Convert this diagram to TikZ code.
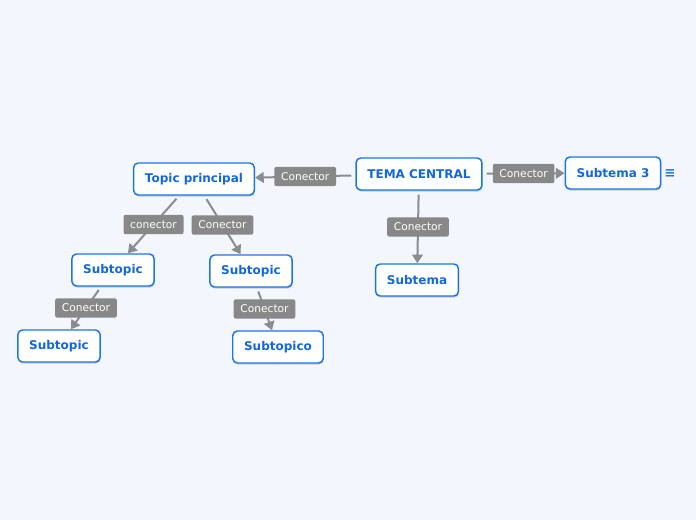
\documentclass[tikz,border=0pt]{standalone}
\usepackage{fontspec}
\setmainfont{DejaVu Sans}
\usetikzlibrary{arrows.meta,shadows}
\definecolor{Paper}{HTML}{F3F6FD}
\definecolor{Topic}{HTML}{1877E6}
\definecolor{TopicText}{HTML}{1268D8}
\definecolor{Link}{HTML}{8A8C90}
\definecolor{Tag}{HTML}{888888}

\begin{document}
\begin{tikzpicture}[x=0.75pt,y=-0.75pt,
  topic/.style={draw=Topic,line width=1.1pt,fill=white,rounded corners=3.5pt,
    minimum height=24pt,inner xsep=8.5pt,text=TopicText,
    font=\fontsize{9}{11}\selectfont\bfseries,
    drop shadow={shadow xshift=0.4pt,shadow yshift=-1.2pt,fill=black,opacity=0.18}},
  link/.style={draw=Link,line width=1.5pt,-{Triangle[length=6.5pt,width=8pt]},shorten <=3pt},
  tag/.style={fill=Tag,text=white,rounded corners=1.5pt,minimum height=14.5pt,
    inner xsep=5pt,inner ysep=0pt,font=\fontsize{8}{10}\selectfont}]
  \fill[Paper] (0,0) rectangle (696,520);
  % topics
  \node[topic] (tema) at (419,174) {TEMA CENTRAL};
  \node[topic] (principal) at (194,179) {Topic principal};
  \node[topic] (sub3) at (613,173) {Subtema 3};
  \node[text=Topic,font=\fontsize{10}{12}\selectfont\bfseries] (menu) at (670,174) {≡};
  \node[topic] (subtema) at (417,280) {Subtema};
  \node[topic] (subL) at (113,270) {Subtopic};
  \node[topic] (subM) at (251,271) {Subtopic};
  \node[topic] (subLL) at (59,346) {Subtopic};
  \node[topic] (subico) at (278,347) {Subtopico};
  % connectors
  \draw[link] (tema) -- node[tag]{Conector} (principal);
  \draw[link] (tema) -- node[tag]{Conector} (sub3);
  \draw[link] (tema) -- node[tag]{Conector} (subtema);
  \draw[link] (principal) -- node[tag]{conector} (subL);
  \draw[link] (principal) -- node[tag]{Conector} (subM);
  \draw[link] (subL) -- node[tag]{Conector} (subLL);
  \draw[link] (subM) -- node[tag]{Conector} (subico);
\end{tikzpicture}
\end{document}
